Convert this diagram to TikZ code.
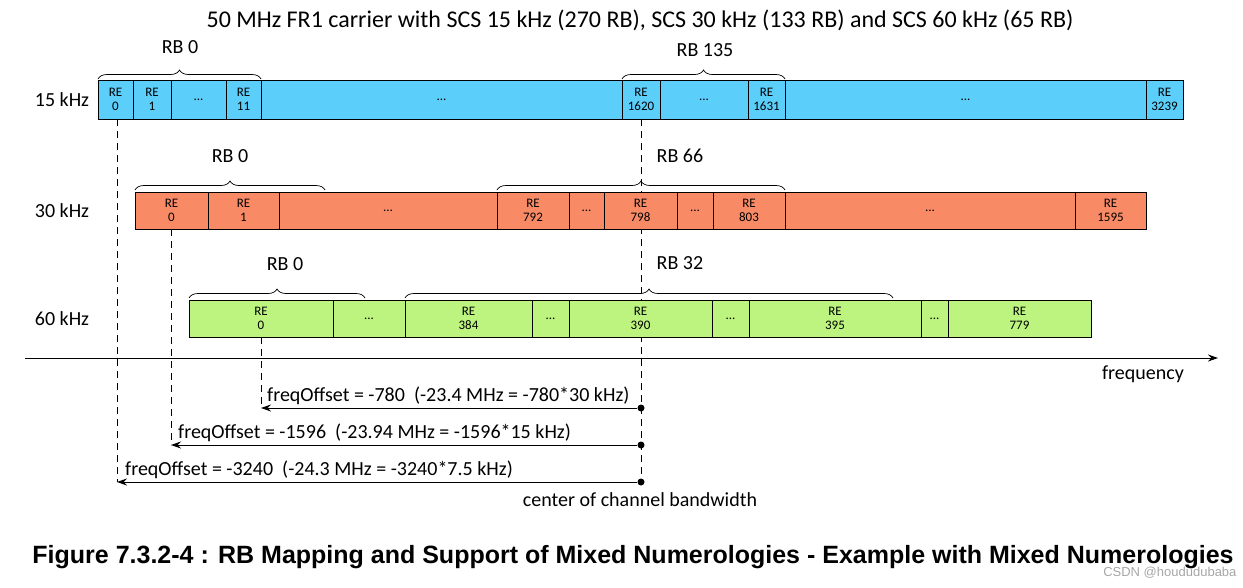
\documentclass[tikz,border=0pt]{standalone}
\usepackage{fontspec}
\setmainfont{Carlito}
\newfontfamily\capfont{Liberation Sans}
\usetikzlibrary{decorations.pathreplacing,arrows.meta}
\begin{document}
\begin{tikzpicture}[x=1pt,y=-1pt,
  cell/.style={draw=black,line width=0.6pt,inner sep=0pt,align=center,font=\fontsize{13}{13.5}\selectfont},
  br/.style={decorate,decoration={brace,amplitude=9pt},line width=0.7pt},
  lbl/.style={font=\fontsize{20}{22}\selectfont},
  dsh/.style={dashed,dash pattern=on 7pt off 5pt,line width=0.7pt},
  arr/.style={-{Stealth[length=10pt,width=7pt]},line width=1pt},
  dot/.style={circle,fill=black,inner sep=0pt,minimum size=7pt}]
\useasboundingbox (0,0) rectangle (1243,587);
\node[font=\fontsize{24}{26}\selectfont] (title) at (640,20) {50 MHz FR1 carrier with SCS 15 kHz (270 RB), SCS 30 kHz (133 RB) and SCS 60 kHz (65 RB)};
% dashed guide lines (behind cells)
\node[dot] (d1) at (641,408) {};
\node[dot] (d2) at (641,445) {};
\node[dot] (d3) at (641,482) {};
\coordinate (e1) at (261,408); \coordinate (e2) at (171,445); \coordinate (e3) at (117,482);
\draw[dsh] (117,119) -- (e3);
\draw[dsh] (171,229) -- (e2);
\draw[dsh] (261,337) -- (e1);
\draw[dsh] (641,119) -- (d3);
% rows
\foreach \a/\b/\t [count=\i] in {98/133/{RE\\0},133/171/{RE\\1},171/226/{...},226/261/{RE\\11},261/622/{...},622/660/{RE\\1620},660/748/{...},748/785/{RE\\1631},785/1146/{...},1146/1183/{RE\\3239}}
  \node[cell,fill={rgb,255:red,91;green,206;blue,250},minimum width={\b-\a},minimum height=39pt] (a\i) at ({(\a+\b)/2},99.5) {\t};
\foreach \a/\b/\t [count=\i] in {135/208/{RE\\0},208/279/{RE\\1},279/497/{...},497/569/{RE\\792},569/604/{...},604/677/{RE\\798},677/713/{...},713/785/{RE\\803},785/1075/{...},1075/1146/{RE\\1595}}
  \node[cell,fill={rgb,255:red,248;green,139;blue,102},minimum width={\b-\a},minimum height=37pt] (b\i) at ({(\a+\b)/2},210.5) {\t};
\foreach \a/\b/\t [count=\i] in {189/333/{RE\\0},333/405/{...},405/532/{RE\\384},532/569/{...},569/712/{RE\\390},712/749/{...},749/921/{RE\\395},921/948/{...},948/1091/{RE\\779}}
  \node[cell,fill={rgb,255:red,189;green,244;blue,127},minimum width={\b-\a},minimum height=37pt] (c\i) at ({(\a+\b)/2},318.5) {\t};
\node[lbl] (r1) at (62,100) {15 kHz};
\node[lbl] (r2) at (62,211) {30 kHz};
\node[lbl] (r3) at (62,319) {60 kHz};
% braces
\draw[br] (98,79) -- (261,79); \node[lbl] (rb1) at (180,47) {RB 0};
\draw[br] (622,79) -- (785,79); \node[lbl] (rb2) at (705,50) {RB 135};
\draw[br] (135,190) -- (325,190); \node[lbl] (rb3) at (230,156) {RB 0};
\draw[br] (497,190) -- (785,190); \node[lbl] (rb4) at (680,156) {RB 66};
\draw[br] (189,298) -- (365,298); \node[lbl] (rb5) at (285,264) {RB 0};
\draw[br] (405,298) -- (893,298); \node[lbl] (rb6) at (680,263) {RB 32};
% axis
\coordinate (ax0) at (25,358); \coordinate (ax1) at (1218,358);
\draw[arr] (ax0) -- (ax1);
\node[lbl] (fq) at (1143,374) {frequency};
\draw[arr] (d1) -- (e1);
\draw[arr] (d2) -- (e2);
\draw[arr] (d3) -- (e3);
\node[lbl,anchor=south west,inner sep=1pt] (t1) at (266,406) {freqOffset = -780~ (-23.4 MHz = -780*30 kHz)};
\node[lbl,anchor=south west,inner sep=1pt] (t2) at (177,443) {freqOffset = -1596~ (-23.94 MHz = -1596*15 kHz)};
\node[lbl,anchor=south west,inner sep=1pt] (t3) at (124,480) {freqOffset = -3240~ (-24.3 MHz = -3240*7.5 kHz)};
\node[lbl] (cc) at (640,500) {center of channel bandwidth};
\node[font=\capfont\bfseries\fontsize{25}{27}\selectfont] (cap) at (633,557) {Figure 7.3.2-4 : RB Mapping and Support of Mixed Numerologies - Example with Mixed Numerologies};
\node[font=\capfont\fontsize{13}{14}\selectfont,text=gray!70,anchor=east] (wm) at (1240,573) {CSDN @hoududubaba};
\end{tikzpicture}
\end{document}
